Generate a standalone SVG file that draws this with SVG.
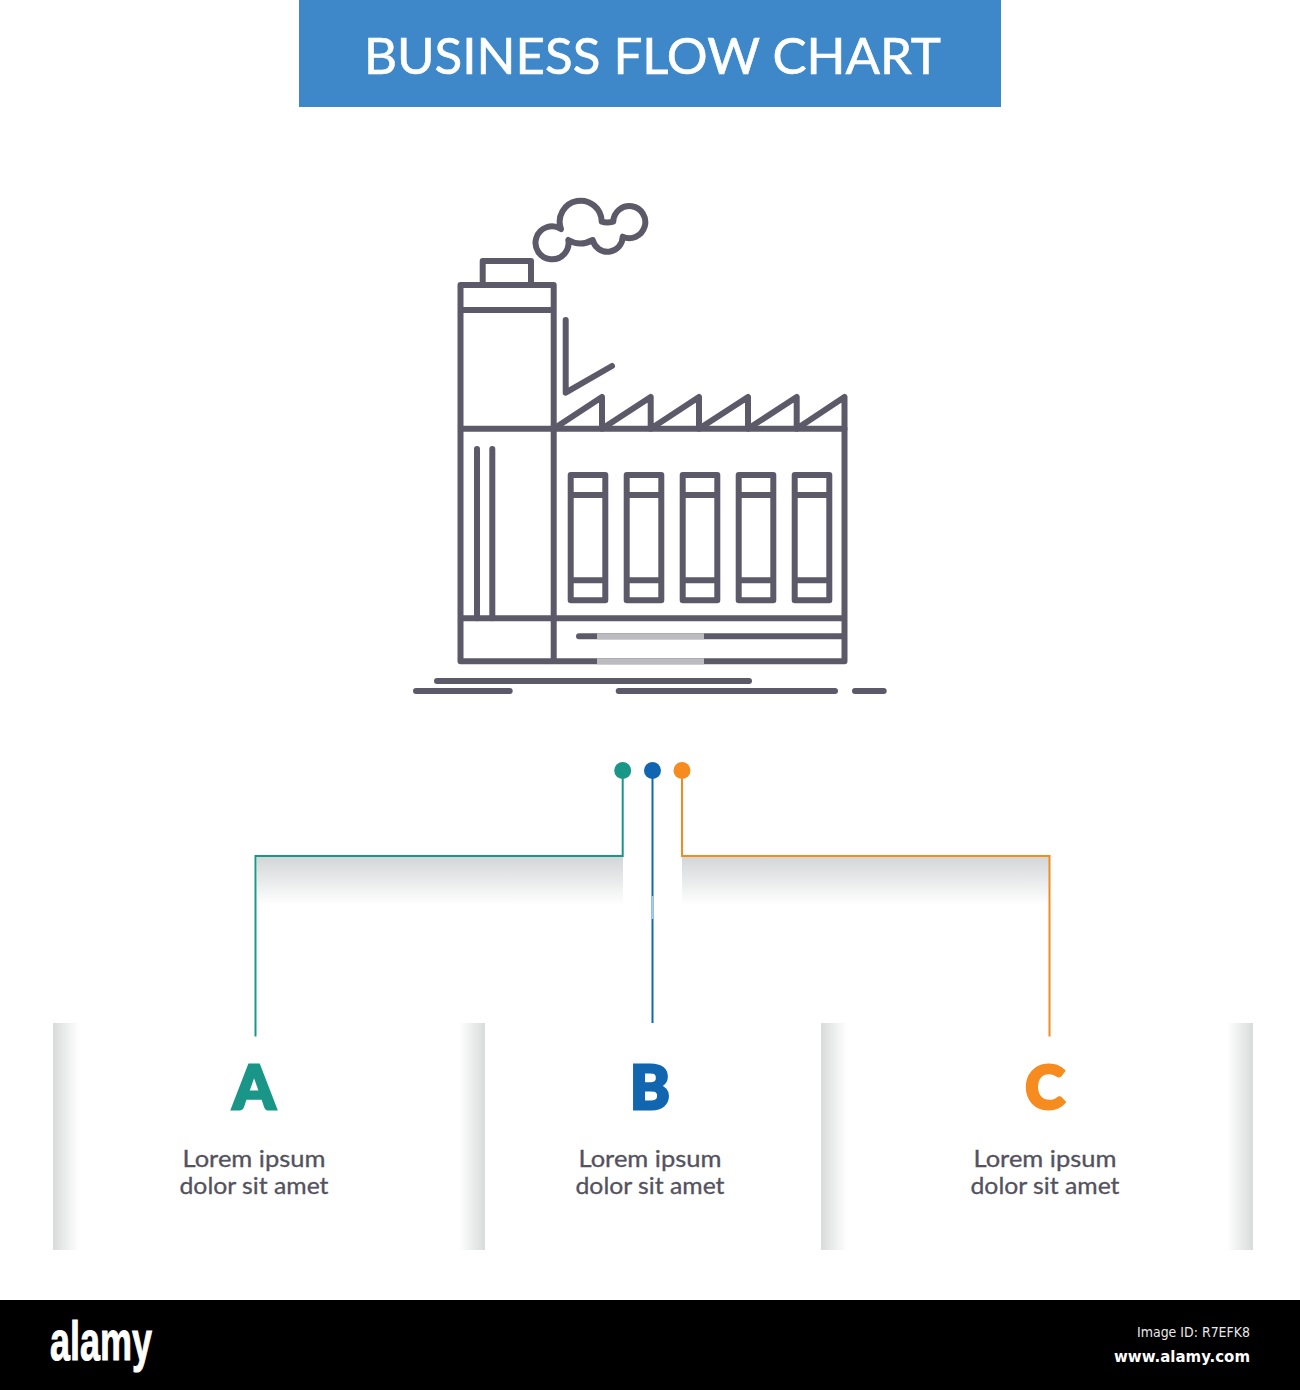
<svg xmlns="http://www.w3.org/2000/svg" width="1300" height="1390" viewBox="0 0 1300 1390">
<style>
.ic{fill:none;stroke:#5c5a68;stroke-width:6;stroke-linecap:round;stroke-linejoin:round}
.wm{fill:none;stroke:#bcbbc0;stroke-width:6}
.body{font-family:"Lato","Open Sans",sans-serif;font-size:23px;fill:#53525e;stroke:#53525e;stroke-width:.3;text-anchor:middle}
.letter{font-family:"Lato","Liberation Sans",sans-serif;font-weight:900;font-size:60px;text-anchor:middle;stroke-width:3;stroke-linejoin:miter}
.conn{fill:none;stroke-width:2}
</style>
<defs>
<linearGradient id="gv" x1="0" y1="0" x2="0" y2="1"><stop offset="0" stop-color="#d3d6d7"/><stop offset="1" stop-color="#ffffff"/></linearGradient>
<linearGradient id="gl" x1="0" y1="0" x2="1" y2="0"><stop offset="0" stop-color="#d9dbdb"/><stop offset="1" stop-color="#ffffff"/></linearGradient>
<linearGradient id="gr" x1="0" y1="0" x2="1" y2="0"><stop offset="0" stop-color="#ffffff"/><stop offset="1" stop-color="#d9dbdb"/></linearGradient>
</defs>
<rect width="1300" height="1390" fill="#fff"/>
<g id="header">
<rect x="299" y="0" width="702" height="107" fill="#3e88ca"/>
<text x="652.5" y="74" font-family="Lato,'Open Sans',sans-serif" font-size="50" fill="#fff" stroke="#fff" stroke-width=".6" text-anchor="middle" textLength="577" lengthAdjust="spacingAndGlyphs">BUSINESS FLOW CHART</text>
</g>
<g id="factory-icon">
<path class="ic" d="M561 229A21 21 0 1 1 601.7 221.7Q607 223.5 613.3 221.7A16 16 0 1 1 622.7 236.7A15.2 15.2 0 0 1 592.7 240Q580 247 568.3 240A16.5 16.5 0 1 1 561 229Z"/>
<path class="ic" d="M482.7 285V261H531V285"/>
<path class="ic" d="M460.5 428.7V285H553.7V661.3H460.5V428.7H844.5V661.3H553.7M460.5 310H553.7M460.5 618.3H844.5M579 636.3H844.5"/>
<path class="ic" d="M565.7 320V392.7L612 366"/>
<path class="ic" d="M553.7 428.7L602 397V428.7M602 428.7L650.7 397V428.7M650.7 428.7L699 397V428.7M699 428.7L748 397V428.7M748 428.7L796.7 397V428.7M796.7 428.7L844.5 397V428.7"/>
<path class="ic" d="M477 449V618.3M492.3 449V618.3"/>
<g id="windows">
<path class="ic" d="M570.7 475H605.3V600.3H570.7ZM570.7 495H605.3M570.7 580.3H605.3"/>
<path class="ic" d="M626.7 475H661.3V600.3H626.7ZM626.7 495H661.3M626.7 580.3H661.3"/>
<path class="ic" d="M682.7 475H717.3V600.3H682.7ZM682.7 495H717.3M682.7 580.3H717.3"/>
<path class="ic" d="M738.7 475H773.3V600.3H738.7ZM738.7 495H773.3M738.7 580.3H773.3"/>
<path class="ic" d="M794.7 475H829.3V600.3H794.7ZM794.7 495H829.3M794.7 580.3H829.3"/>
</g>
<path class="ic" d="M437 681H749M416 691H509.7M618.7 691H835M855 691H883.7"/>
<path class="wm" d="M597 636.3H704M597 661.3H704"/>
</g>
<g id="shadows">
<rect x="257" y="857" width="366" height="48" fill="url(#gv)"/>
<rect x="682" y="857" width="367" height="48" fill="url(#gv)"/>
</g>
<g id="connectors">
<path class="conn" stroke="#1a9688" d="M255.5 1036.5V856H622.7V770"/>
<path class="conn" stroke="#1266b0" d="M652.5 770V1023"/>
<path class="conn" stroke="#f28c1e" d="M682 770V856H1049.5V1036.5"/>
<path fill="none" stroke="#a9cbe6" stroke-width="2" d="M652.5 896V919"/>
</g>
<g id="dots">
<circle cx="622.7" cy="770.5" r="8.5" fill="#1a9688"/>
<circle cx="652.5" cy="770.5" r="8.5" fill="#1266b0"/>
<circle cx="682" cy="770.5" r="8.5" fill="#f68c1f"/>
</g>
<g id="panel-a">
<rect x="53" y="1023" width="26" height="227" fill="url(#gl)"/>
<rect x="459" y="1023" width="26" height="227" fill="url(#gr)"/>
<text class="letter" x="254" y="1109" fill="#1a9688" stroke="#1a9688">A</text>
<text class="body" x="254" y="1167" textLength="143" lengthAdjust="spacingAndGlyphs">Lorem ipsum</text>
<text class="body" x="254" y="1194" textLength="149" lengthAdjust="spacingAndGlyphs">dolor sit amet</text>
</g>
<g id="panel-b">
<text class="letter" x="650" y="1109" fill="#1266b0" stroke="#1266b0">B</text>
<text class="body" x="650" y="1167" textLength="143" lengthAdjust="spacingAndGlyphs">Lorem ipsum</text>
<text class="body" x="650" y="1194" textLength="149" lengthAdjust="spacingAndGlyphs">dolor sit amet</text>
</g>
<g id="panel-c">
<rect x="821" y="1023" width="26" height="227" fill="url(#gl)"/>
<rect x="1227" y="1023" width="26" height="227" fill="url(#gr)"/>
<text class="letter" x="1045" y="1109" fill="#f68c1f" stroke="#f68c1f">C</text>
<text class="body" x="1045" y="1167" textLength="143" lengthAdjust="spacingAndGlyphs">Lorem ipsum</text>
<text class="body" x="1045" y="1194" textLength="149" lengthAdjust="spacingAndGlyphs">dolor sit amet</text>
</g>
<g id="footer">
<rect x="0" y="1300" width="1300" height="90" fill="#000"/>
<text x="50" y="1360" font-family="'Liberation Sans',sans-serif" font-weight="700" font-size="56" fill="#fff" stroke="#fff" stroke-width="1" textLength="102" lengthAdjust="spacingAndGlyphs">alamy</text>
<text x="1250" y="1337" font-family="'DejaVu Sans',sans-serif" font-size="14" fill="#e8e8e8" text-anchor="end" textLength="113" lengthAdjust="spacingAndGlyphs">Image ID: R7EFK8</text>
<text x="1250" y="1362" font-family="'DejaVu Sans',sans-serif" font-weight="700" font-size="15" fill="#fff" text-anchor="end" textLength="136" lengthAdjust="spacingAndGlyphs">www.alamy.com</text>
</g>
</svg>
